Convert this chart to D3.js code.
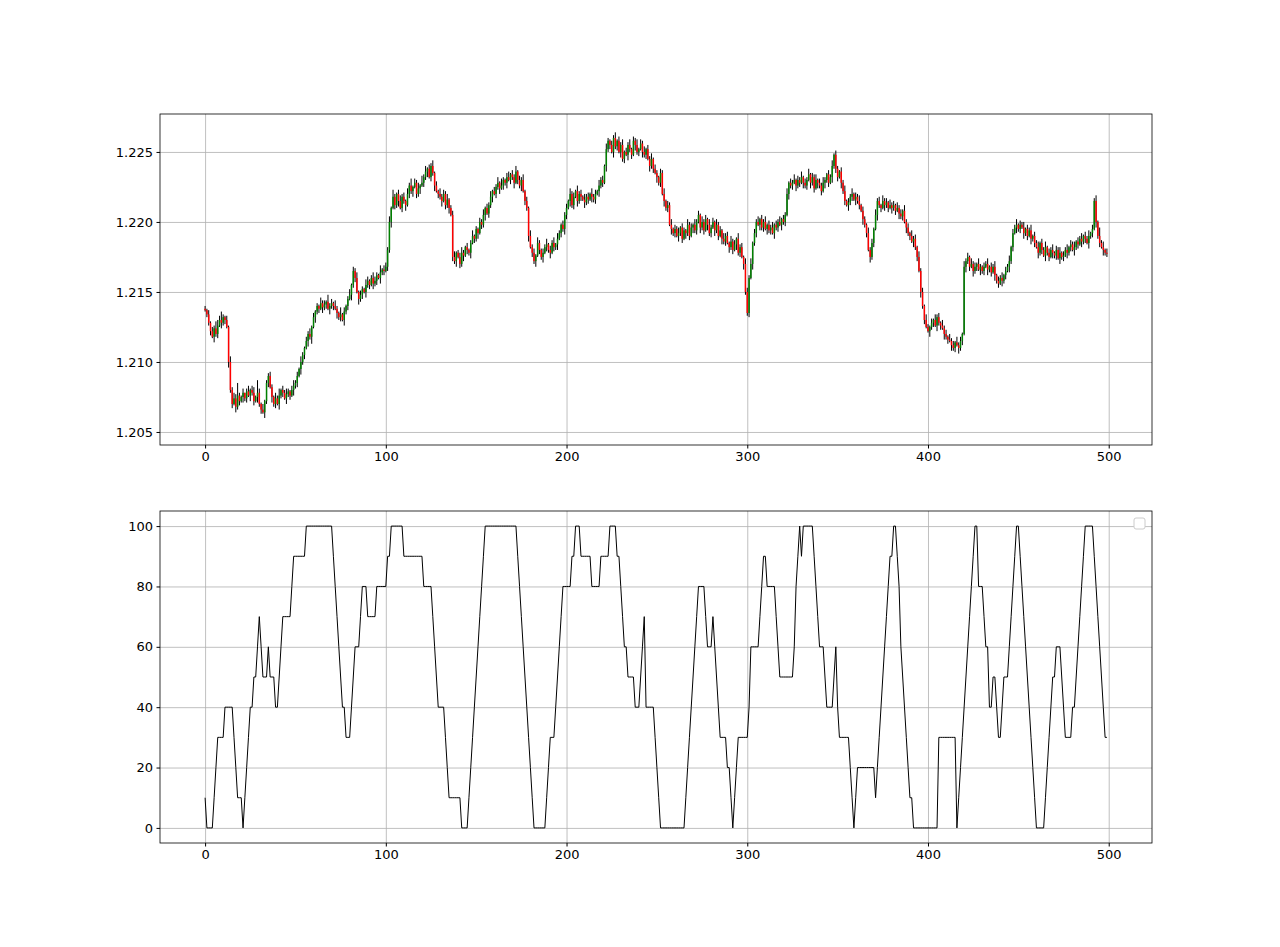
<!DOCTYPE html>
<html><head><meta charset="utf-8">
<script src="https://cdn.jsdelivr.net/npm/d3@7"></script>
<style>body{margin:0;background:#fff}svg{display:block}text{font-family:"DejaVu Sans",sans-serif;font-size:13px;fill:#000}</style>
</head><body><svg id="c" width="1280" height="947"></svg>
<script>
// closes in pips above 1.2000
const closePips = [
137,134,128,122,118,124,120,126,130,128, 132,130,125,100,80,70,74,68,76,72,
75,78,74,79,76,80,78,72,75,78, 70,66,64,72,85,90,82,75,70,74,
70,76,80,78,74,77,79,76,80,83, 85,90,95,100,105,110,115,120,118,125,
132,136,140,138,142,139,141,143,138,140, 142,140,138,135,132,134,130,136,140,145,
148,155,165,160,150,145,148,152,150,155, 158,155,160,156,158,162,160,164,166,165,
168,180,200,210,218,212,220,215,210,218, 215,212,220,226,222,225,228,220,224,226,
228,232,236,238,232,240,235,226,222,220, 218,215,220,212,216,210,205,175,172,178,
175,170,178,176,182,180,178,185,190,188, 195,192,200,198,205,210,206,212,218,222,
220,225,228,224,226,230,228,232,230,234, 232,228,236,230,226,230,222,215,210,190,
182,178,172,176,185,180,175,178,182,184, 180,178,185,182,184,188,192,198,195,205,
210,215,220,212,218,222,215,220,218,216, 214,218,216,220,218,216,220,222,226,230,
228,240,252,258,255,250,260,254,258,250, 255,245,250,248,255,252,248,258,255,250,
252,256,250,248,252,245,240,245,238,235, 232,228,235,220,215,210,212,198,195,192,
195,190,192,196,188,194,192,198,190,196, 198,194,200,205,196,200,194,202,198,192,
196,200,194,198,190,194,188,186,190,185, 182,186,180,184,188,178,182,175,170,150,
135,160,170,185,192,200,198,202,196,200, 195,198,194,196,192,198,196,200,198,202,
200,205,220,228,226,228,230,226,230,228, 232,228,226,230,234,228,232,224,230,228,
226,222,228,230,234,228,232,240,248,238, 232,236,228,222,215,212,214,218,220,216,
218,215,212,208,202,198,192,180,175,185, 195,205,215,212,210,215,212,214,210,212,
210,212,208,210,206,204,208,200,196,192, 190,186,188,182,175,165,150,140,130,125,
122,125,128,130,126,132,128,126,124,120, 118,116,115,112,110,114,112,110,115,120,
168,172,175,168,170,165,168,170,166,168, 165,168,170,166,168,164,168,162,158,156,
160,158,162,165,168,172,182,192,196,198, 195,198,196,192,195,190,194,188,190,185,
182,178,185,180,176,182,178,175,180,178, 176,180,174,178,175,176,180,178,182,184,
180,182,186,184,188,186,190,188,185,190, 192,195,215,200,190,185,182,180,178,178];
const firstOpenPips = 138;
// wick lengths in pips above body / below body
const highWickDigits =
"21313254362131424392130241341931412232142513242134"+
"23142132413121423152314215131241324132143124321513"+
"32415213423142513241524132413142324123412342131241"+
"21324132413241521341324132413142314213241324142132"+
"31423142314231423142314213241324132413241324132413"+
"21324132413241321423142314231423142314231423142314"+
"32413241324132413241324132413241324132413242132413"+
"21324132413241321423142314231423142314231423142314"+
"21314231423142314231423142314213241324132413241324"+
"13241324132413241324132413241324132413241324162413";
const lowWickDigits =
"12231423142314231423142314231423142314231423142314"+
"23142314251423142314231423142314231423142314231423"+
"13241324132413241324132413241324132413241324132413"+
"24132413241324132413241324132413241324132413241324"+
"31423142314231423142314231423142314231423142314231"+
"42314231423142314231423142314231423142314231423142"+
"23142314231423142314231423142314231423142314231423"+
"31423142314231423142314231423142314231423142314231"+
"14231423142314231423142314231423142314231423142314"+
"23142314231423142314231423142314231423142314231423";
const indicator = [
10,0,0,0,0,10,20,30,30,30, 30,40,40,40,40,40,30,20,10,10,
10,0,10,20,30,40,40,50,50,60, 70,60,50,50,50,60,50,50,50,40,
40,50,60,70,70,70,70,70,80,90, 90,90,90,90,90,90,100,100,100,100,
100,100,100,100,100,100,100,100,100,100, 100,90,80,70,60,50,40,40,30,30,
30,40,50,60,60,60,70,80,80,80, 70,70,70,70,70,80,80,80,80,80,
80,90,90,100,100,100,100,100,100,100, 90,90,90,90,90,90,90,90,90,90,
90,80,80,80,80,80,70,60,50,40, 40,40,40,30,20,10,10,10,10,10,
10,10,0,0,0,0,10,20,30,40, 50,60,70,80,90,100,100,100,100,100,
100,100,100,100,100,100,100,100,100,100, 100,100,100,90,80,70,60,50,40,30,
20,10,0,0,0,0,0,0,0,10, 20,30,30,30,40,50,60,70,80,80,
80,80,80,90,90,100,100,100,90,90, 90,90,90,90,80,80,80,80,80,90,
90,90,90,90,100,100,100,100,90,90, 80,70,60,60,50,50,50,50,40,40,
40,50,60,70,40,40,40,40,40,30, 20,10,0,0,0,0,0,0,0,0,
0,0,0,0,0,0,10,20,30,40, 50,60,70,80,80,80,80,70,60,60,
60,70,60,50,40,30,30,30,30,20, 20,10,0,10,20,30,30,30,30,30,
30,40,60,60,60,60,60,70,80,90, 90,80,80,80,80,80,70,60,50,50,
50,50,50,50,50,50,60,80,90,100, 90,100,100,100,100,100,100,90,80,70,
60,60,60,50,40,40,40,40,50,60, 40,30,30,30,30,30,30,20,10,0,
10,20,20,20,20,20,20,20,20,20, 20,10,20,30,40,50,60,70,80,90,
90,100,100,90,80,60,50,40,30,20, 10,10,0,0,0,0,0,0,0,0,
0,0,0,0,0,0,30,30,30,30, 30,30,30,30,30,30,0,10,20,30,
40,50,60,70,80,90,100,100,80,80, 80,70,60,60,40,40,50,50,40,30,
30,40,50,50,50,60,70,80,90,100, 100,90,80,70,60,50,40,30,20,10,
0,0,0,0,0,10,20,30,40,50, 50,60,60,60,50,40,30,30,30,30,
40,40,50,60,70,80,90,100,100,100, 100,100,90,80,70,60,50,40,30,30];
const xTicks = [0,100,200,300,400,500];
const priceTicks = [1.205,1.210,1.215,1.220,1.225];
const indTicks = [0,20,40,60,80,100];

const svg = d3.select("#c");
const L=160,R=1152;
const x = d3.scaleLinear().domain([-24.95,523.95]).range([L,R]);
const yP = d3.scaleLinear().domain([1.20407,1.22771]).range([445,114]);
const yI = d3.scaleLinear().domain([-5,105]).range([843,511]);

const data = closePips.map((c,i)=>{
  const o = i===0?firstOpenPips:closePips[i-1];
  const hi = Math.max(o,c)+ +highWickDigits[i];
  const lo = Math.min(o,c)- +lowWickDigits[i];
  return {i,o:1.2+o/1e4,c:1.2+c/1e4,h:1.2+hi/1e4,l:1.2+lo/1e4};
});

function frame(y,ticks,fmt,top,bot){
  const g=svg.append("g");
  g.append("g").attr("transform",`translate(0,${bot})`).call(d3.axisBottom(x).tickValues(xTicks).tickSize(-(bot-top)).tickFormat(""))
    .call(a=>{a.select(".domain").remove();a.selectAll("line").attr("stroke","#b0b0b0").attr("stroke-width",0.8);});
  g.append("g").attr("transform",`translate(${L},0)`).call(d3.axisLeft(y).tickValues(ticks).tickSize(-(R-L)).tickFormat(""))
    .call(a=>{a.select(".domain").remove();a.selectAll("line").attr("stroke","#b0b0b0").attr("stroke-width",0.8);});
  return g;
}
function axes(y,ticks,fmt,top,bot){
  const ax=svg.append("g").attr("transform",`translate(0,${bot})`).call(d3.axisBottom(x).tickValues(xTicks).tickSize(3.5).tickPadding(3.5).tickFormat(d3.format("d")));
  ax.select(".domain").remove();
  const ay=svg.append("g").attr("transform",`translate(${L},0)`).call(d3.axisLeft(y).tickValues(ticks).tickSize(3.5).tickPadding(3.5).tickFormat(fmt));
  ay.select(".domain").remove();
  svg.selectAll(".tick text").style("font-size","13px").style("font-family","DejaVu Sans");
  svg.append("rect").attr("x",L).attr("y",top).attr("width",R-L).attr("height",bot-top).attr("fill","none").attr("stroke","#000").attr("stroke-width",0.8);
}
frame(yP,priceTicks,null,114,445);
const cg=svg.append("g");
cg.selectAll("line").data(data).join("line").attr("x1",d=>x(d.i)).attr("x2",d=>x(d.i))
  .attr("y1",d=>yP(d.h)).attr("y2",d=>yP(d.l)).attr("stroke","#000").attr("stroke-width",1);
cg.selectAll("rect").data(data).join("rect").attr("x",d=>x(d.i)-0.75).attr("width",1.5)
  .attr("y",d=>yP(Math.max(d.o,d.c))).attr("height",d=>Math.max(1,Math.abs(yP(d.o)-yP(d.c))))
  .attr("fill",d=>d.c>d.o?"green":"red");
axes(yP,priceTicks,d3.format(".3f"),114,445);

frame(yI,indTicks,null,511,843);
svg.append("path").datum(indicator).attr("fill","none").attr("stroke","#000").attr("stroke-width",1)
  .attr("d",d3.line().x((d,i)=>x(i)).y(d=>yI(d)));
axes(yI,indTicks,d3.format("d"),511,843);
svg.append("rect").attr("x",1134).attr("y",518).attr("width",11).attr("height",11).attr("rx",2)
  .attr("fill","#fff").attr("stroke","#ccc").attr("stroke-width",1);
</script></body></html>
